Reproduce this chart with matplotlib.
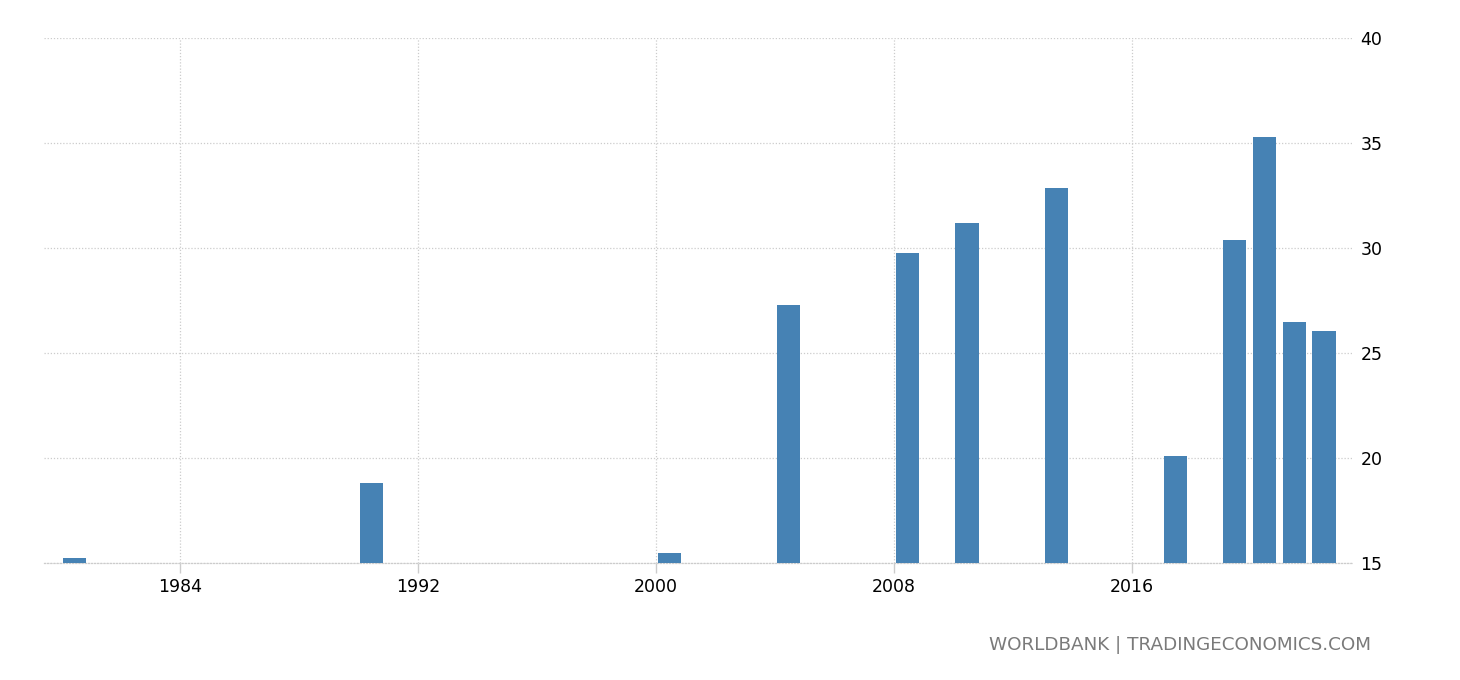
import matplotlib.pyplot as plt
import numpy as np

years = np.array([1980, 1990, 2000, 2004, 2008, 2010, 2013, 2017, 2019, 2020, 2021, 2022])
values = np.array([15.24, 18.8, 15.5, 27.3, 29.76, 31.2, 32.86, 20.1, 30.4, 35.3, 26.5, 26.05])
xticks = [1984, 1992, 2000, 2008, 2016]
yticks = [15, 20, 25, 30, 35, 40]

fig = plt.figure(figsize=(14.6, 6.8), dpi=100)
ax = fig.add_axes([0.0301, 0.172, 0.8959, 0.772])

ax.bar(years + 0.45, values - 15, bottom=15, width=0.78, color='#4682b4', zorder=3)

ax.set_xlim(1979.43, 2023.39)
ax.set_ylim(15, 40)
ax.set_xticks(xticks)
ax.set_yticks(yticks)
ax.yaxis.tick_right()
ax.tick_params(axis='y', length=0, pad=6, labelsize=12.5)
ax.tick_params(axis='x', length=7, width=1, color='#cccccc', pad=4, labelsize=12.5)
ax.grid(True, color='#cccccc', linestyle=(0, (1, 1.5)), linewidth=0.9, zorder=0)
for side in ['top', 'right', 'left']:
    ax.spines[side].set_visible(False)
ax.spines['bottom'].set_color('#cccccc')
ax.spines['bottom'].set_linestyle((0, (1, 1.5)))
ax.spines['bottom'].set_linewidth(0.9)

fig.text(0.939, 0.052, 'WORLDBANK | TRADINGECONOMICS.COM', ha='right', va='center',
         fontsize=13.2, color='#7a7a7a')

plt.savefig('out.png', dpi=100)
